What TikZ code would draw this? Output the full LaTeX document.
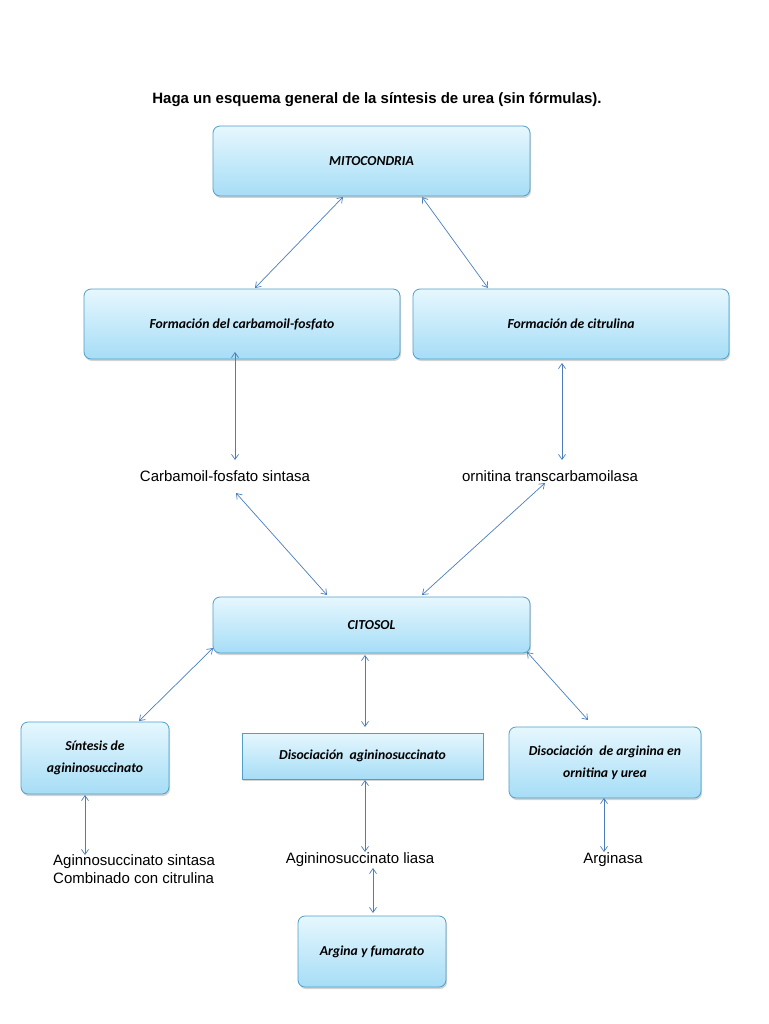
\documentclass[tikz,border=0pt]{standalone}
\usepackage{fontspec}
\setmainfont{Liberation Sans}
\newfontfamily\boxfont{Carlito}
\usetikzlibrary{arrows.meta,shadows}
\definecolor{bordc}{HTML}{4F9FC9}
\definecolor{topc}{HTML}{E6F7FE}
\definecolor{botc}{HTML}{A6DDF6}
\definecolor{arrc}{HTML}{4A7EBB}
\begin{document}
\begin{tikzpicture}[x=1pt,y=-1pt,
  bx/.style={draw=bordc,line width=0.8pt,rounded corners=7pt,top color=topc,bottom color=botc,
    drop shadow={shadow xshift=1pt,shadow yshift=-2pt,opacity=0.35},
    font=\boxfont\bfseries\itshape\fontsize{13.7}{22}\selectfont,align=center,inner sep=0pt},
  lb/.style={font=\fontsize{15}{18}\selectfont,inner sep=0pt},
  ar/.style={draw=arrc,line width=0.7pt,{Straight Barb[length=5pt,width=7pt]}-{Straight Barb[length=5pt,width=7pt]}}]
\useasboundingbox (0,0) rectangle (768,1024);
\node[font=\bfseries\fontsize{15}{18}\selectfont] (title) at (377,100) {Haga un esquema general de la síntesis de urea (sin fórmulas).};
\node[bx,minimum width=317pt,minimum height=70pt] (mito) at (371.5,161) {MITOCONDRIA};
\node[bx,minimum width=316pt,minimum height=70pt] (carb) at (242,324) {Formación del carbamoil-fosfato};
\node[bx,minimum width=316pt,minimum height=70pt] (citr) at (571,324) {Formación de citrulina};
\node[bx,minimum width=317pt,minimum height=56pt] (cito) at (371.5,625) {CITOSOL};
\node[bx,minimum width=148pt,minimum height=72pt] (sint) at (95,758) {Síntesis de\\agininosuccinato};
\node[bx,rounded corners=0pt,minimum width=241pt,minimum height=46pt] (diso) at (362.5,756) {Disociación\ \ agininosuccinato};
\node[bx,minimum width=192pt,minimum height=71pt] (darg) at (605,762.5) {Disociación\ \ de arginina en\\ornitina y urea};
\node[bx,minimum width=148pt,minimum height=71pt] (fum) at (372,951.5) {Argina y fumarato};
\node[lb] (cfs) at (225,476) {Carbamoil-fosfato sintasa};
\node[lb] (otc) at (550,476) {ornitina transcarbamoilasa};
\node[lb,anchor=west,align=left] (ass) at (53,869) {Aginnosuccinato sintasa\\Combinado con citrulina};
\node[lb] (asl) at (360,860) {Agininosuccinato liasa};
\node[lb] (argn) at (613,860) {Arginasa};
\coordinate (a1) at (343,197); \coordinate (b1) at (255,288);
\coordinate (a2) at (422,197); \coordinate (b2) at (488,288);
\coordinate (a3) at (235,352); \coordinate (b3) at (235,460);
\coordinate (a4) at (562,363); \coordinate (b4) at (562,460);
\coordinate (a5) at (236,493); \coordinate (b5) at (327,595);
\coordinate (a6) at (545,483); \coordinate (b6) at (422,595);
\coordinate (a7) at (213,648); \coordinate (b7) at (139,721);
\coordinate (a8) at (365,655); \coordinate (b8) at (365,727);
\coordinate (a9) at (527,652); \coordinate (b9) at (588,720);
\coordinate (a10) at (85,795); \coordinate (b10) at (85,855);
\coordinate (a11) at (365,780); \coordinate (b11) at (365,852);
\coordinate (a12) at (373,868); \coordinate (b12) at (373,913);
\coordinate (a13) at (604,798); \coordinate (b13) at (604,852);
\foreach \i in {1,...,13}{\draw[ar] (a\i) -- (b\i);}
\end{tikzpicture}
\end{document}
